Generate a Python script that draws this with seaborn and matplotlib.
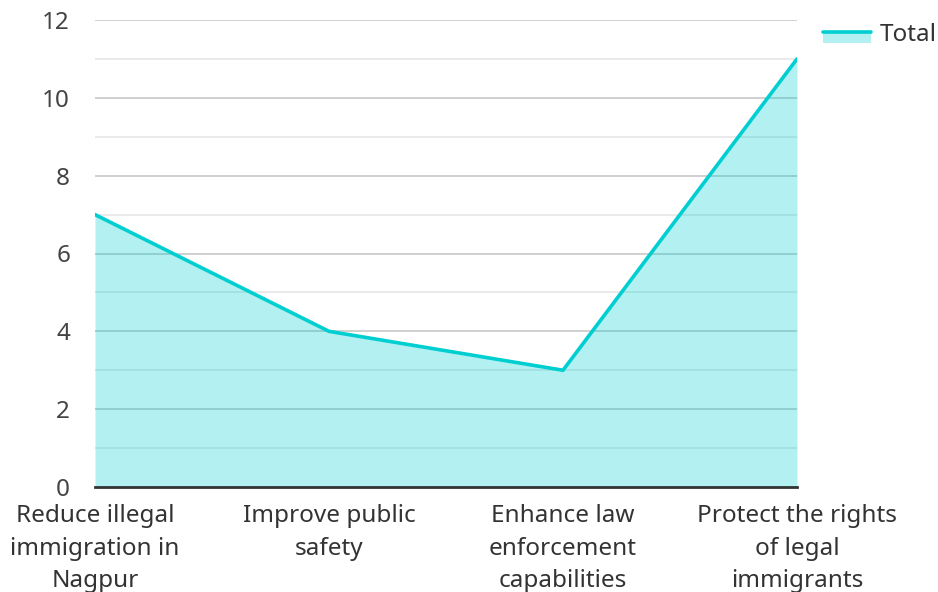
import matplotlib
matplotlib.use("Agg")
import matplotlib.pyplot as plt
import numpy as np
import pandas as pd
import seaborn as sns
from matplotlib.legend_handler import HandlerBase
from matplotlib.lines import Line2D
from matplotlib.patches import Rectangle

categories = [
    "Reduce illegal\nimmigration in\nNagpur",
    "Improve public\nsafety",
    "Enhance law\nenforcement\ncapabilities",
    "Protect the rights\nof legal\nimmigrants",
]
totals = [7, 4, 3, 11]
series_name = "Total"

line_color = "#00CED1"


class AreaHandler(HandlerBase):
    # line on top, translucent patch just under it
    def create_artists(self, legend, orig_handle, xdescent, ydescent,
                       width, height, fontsize, trans):
        yc = height / 2 - ydescent
        rect = Rectangle((-xdescent, yc - 0.65 * height), width, 0.65 * height,
                         facecolor=line_color, alpha=0.3, edgecolor="none",
                         transform=trans)
        line = Line2D([-xdescent, -xdescent + width], [yc, yc],
                      color=line_color, lw=2.6, transform=trans)
        return [rect, line]


sns.set_theme(style="white")
plt.rcParams["font.family"] = ["Noto Sans", "DejaVu Sans"]

df = pd.DataFrame({"x": np.arange(len(categories)), "y": totals})

fig = plt.figure(figsize=(9.38, 5.92), dpi=100)
ax = fig.add_axes([95 / 938, 1 - 487 / 592, (797 - 95) / 938, (487 - 20) / 592])

# grid: major every 2, minor every 1 (under the translucent fill)
for v in range(1, 13):
    ax.axhline(v, color="#c8c8c8" if v % 2 == 0 else "#e6e6e6", lw=1.2, zorder=0)

ax.fill_between(df["x"], df["y"], 0, color=line_color, alpha=0.3, lw=0, zorder=1)
sns.lineplot(data=df, x="x", y="y", color=line_color, lw=2.6, ax=ax, zorder=3)

fs = 17.5
ax.set_xlim(0, len(categories) - 1)
ax.set_ylim(0, 12)
ax.set_yticks(range(0, 13, 2))
ax.set_xticks(df["x"])
ax.set_xticklabels(categories, fontsize=fs, color="#333333", linespacing=1.46)
ax.tick_params(axis="y", labelsize=fs, labelcolor="#444444", length=0, pad=18)
ax.tick_params(axis="x", length=0, pad=12.5)
ax.set_xlabel("")
ax.set_ylabel("")

for s in ["top", "right", "left"]:
    ax.spines[s].set_visible(False)
ax.spines["bottom"].set_color("#333333")
ax.spines["bottom"].set_linewidth(2)
ax.spines["bottom"].set_zorder(4)

handle = Line2D([0], [0], color=line_color, lw=2.6)
fig.legend([handle], [series_name], loc="upper left",
           bbox_to_anchor=(801 / 938, 1 - 1 / 592), frameon=False,
           fontsize=fs, handlelength=2.0, handletextpad=0.36,
           handler_map={Line2D: AreaHandler()},
           labelcolor="#333333")

fig.savefig("out.png", dpi=100)
